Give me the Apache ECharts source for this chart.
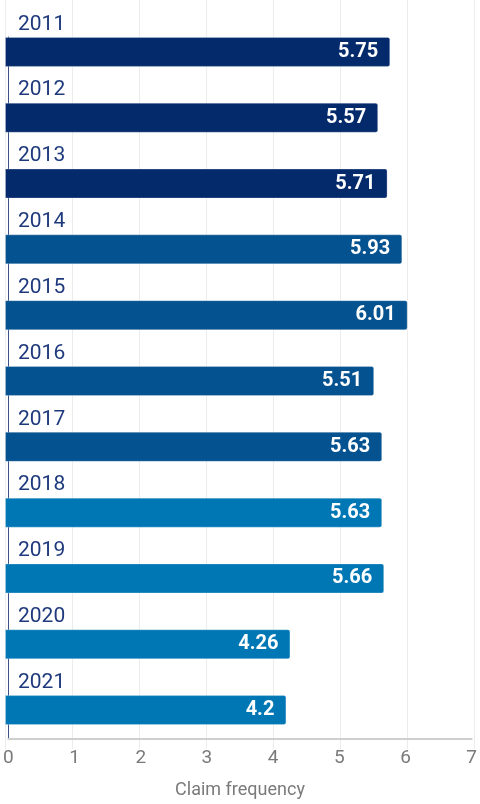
<!DOCTYPE html>
<html>
<head>
<meta charset="utf-8">
<script src="https://cdn.jsdelivr.net/npm/echarts@6/dist/echarts.min.js"></script>
<style>
  html, body { margin: 0; padding: 0; background: #fff; }
  #chart { width: 480px; height: 804px; }
</style>
</head>
<body>
<div id="chart"></div>
<script>
// data
var years = ['2011', '2012', '2013', '2014', '2015', '2016', '2017', '2018', '2019', '2020', '2021'];
var claimFreq = [5.75, 5.57, 5.71, 5.93, 6.01, 5.51, 5.63, 5.63, 5.66, 4.26, 4.2];
var xTicks = [0, 1, 2, 3, 4, 5, 6, 7];

// three shades of blue by period
var shades = ['#052a6c', '#04528f', '#0077b5'];
function shadeOf(i) {
    if (i < 3) return shades[0];
    if (i < 7) return shades[1];
    return shades[2];
}

var chart = echarts.init(document.getElementById('chart'), null, { renderer: 'canvas' });

var option = {
    animation: false,
    textStyle: { fontFamily: 'Roboto' },
    grid: [
        // gridlines only
        { left: 5, right: 6, top: 0, bottom: 55 },
        // axis lines, tick labels
        { left: 5, right: 6, top: 37, bottom: 55 },
        // bars
        { left: 5, right: 6, top: 19, height: 724 }
    ],
    xAxis: [
        {
            gridIndex: 0, type: 'value', min: 0, max: 7, interval: 1,
            axisLine: { show: false }, axisTick: { show: false }, axisLabel: { show: false },
            splitLine: { show: true, lineStyle: { color: '#ececec', width: 1 } }
        },
        {
            gridIndex: 1, type: 'value', min: 0, max: 7, interval: 1,
            axisLine: { show: true, lineStyle: { color: '#cfcfcf', width: 2 } },
            axisTick: { show: false },
            splitLine: { show: false },
            axisLabel: {
                color: '#7a7a7a', fontSize: 19, margin: 10,
                formatter: function (v) { return xTicks.indexOf(v) >= 0 ? String(v) : ''; }
            },
            name: 'Claim frequency', nameLocation: 'middle', nameGap: 42,
            nameTextStyle: { color: '#7a7a7a', fontSize: 18 }
        },
        {
            gridIndex: 2, type: 'value', min: 0, max: 7, interval: 1, show: false
        }
    ],
    yAxis: [
        { gridIndex: 0, type: 'value', show: false },
        {
            gridIndex: 1, type: 'value', min: 0, max: 1,
            axisLine: { show: true, lineStyle: { color: '#3d5288', width: 1 } },
            axisTick: { show: false }, axisLabel: { show: false }, splitLine: { show: false }
        },
        {
            gridIndex: 2, type: 'category', data: years, inverse: true,
            axisLine: { show: false }, axisTick: { show: false },
            axisLabel: {
                inside: true, align: 'left', verticalAlign: 'bottom',
                margin: 13, padding: [0, 0, 17, 0],
                color: '#1f3a7c', fontSize: 21
            }
        }
    ],
    series: [{
        type: 'bar',
        xAxisIndex: 2, yAxisIndex: 2,
        barWidth: 30,
        data: claimFreq.map(function (v, i) {
            return {
                value: v,
                itemStyle: { color: shadeOf(i) }
            };
        }),
        itemStyle: { borderRadius: [0, 2, 2, 0], borderColor: 'rgba(255,255,255,0.25)', borderWidth: 1 },
        label: {
            show: true, position: 'insideRight', distance: 12,
            color: '#fff', fontSize: 20, fontWeight: 'bold'
        }
    }]
};

chart.setOption(option);
</script>
</body>
</html>
